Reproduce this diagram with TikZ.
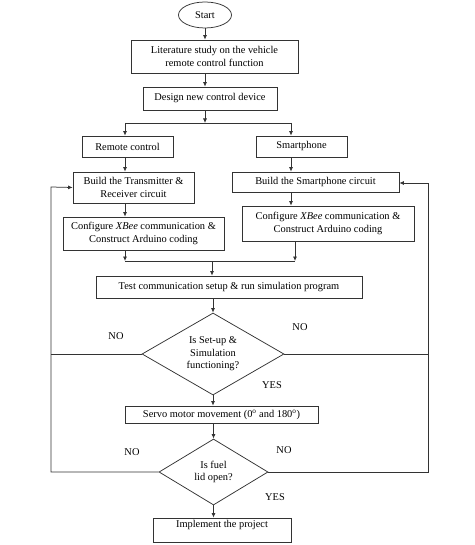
\documentclass[tikz,border=0pt]{standalone}
\usepackage{fontspec}
\setmainfont{Liberation Serif}
\usetikzlibrary{shapes.geometric,arrows.meta}

\begin{document}
\begin{tikzpicture}[x=1pt,y=-1pt, font=\fontsize{10.4}{12.4}\selectfont,
    box/.style={draw=black!80, line width=0.75pt, rectangle, inner sep=0pt, align=center},
    decision/.style={draw=black!80, line width=0.75pt, diamond, inner sep=0pt, aspect=1.7, align=center},
    flow/.style={draw=black!80, line width=0.75pt, -{Latex[length=4.5pt,width=4pt]}},
    wire/.style={draw=black!80, line width=0.75pt},
    answer/.style={inner sep=0pt}]
    \useasboundingbox (0,0) rectangle (474,545);
    % start
    \node[draw=black!80, line width=0.75pt, ellipse, minimum width=53pt, minimum height=26pt, inner sep=0pt] (start) at (205,15) {Start};
    \node[box, minimum width=167pt, minimum height=33pt] (lit) at (214.5,56.5) {Literature study on the vehicle\\remote control function};
    \node[box, minimum width=134pt, minimum height=23pt] (design) at (210,98.5) {Design new control device};
    % two branches
    \node[box, minimum width=91pt, minimum height=21pt] (remote) at (127.5,146.5) {Remote control};
    \node[box, minimum width=91pt, minimum height=21pt] (smart) at (301.5,146.5) {Smartphone};
    \node[box, minimum width=121pt, minimum height=31pt] (buildT) at (133.5,187.5) {Build the Transmitter \&\\Receiver circuit};
    \node[box, minimum width=167pt, minimum height=20pt] (buildS) at (315.5,182) {Build the Smartphone circuit};
    \node[box, minimum width=161pt, minimum height=33pt] (confL) at (143.5,233.5) {Configure \textit{XBee} communication \&\\Construct Arduino coding};
    \node[box, minimum width=172pt, minimum height=35pt] (confR) at (328,223.5) {Configure \textit{XBee} communication \&\\Construct Arduino coding};
    % test and checks
    \node[box, minimum width=266pt, minimum height=22pt] (test) at (229,287) {Test communication setup \& run simulation program};
    \node[decision, minimum width=142pt, minimum height=82pt] (check) at (213,354) {Is Set-up \&\\Simulation\\functioning?};
    \node[box, minimum width=193pt, minimum height=17pt] (servo) at (221.5,414.5) {Servo motor movement (0\textsuperscript{o} and 180\textsuperscript{o})};
    \node[decision, minimum width=109pt, minimum height=66pt] (fuel) at (213.5,472) {Is fuel\\lid open?};
    \node[box, minimum width=138pt, inner ysep=2pt, text height=7pt, text depth=13pt] (impl) at (222,530) {Implement the project};

    \coordinate (split) at (205,123);
    \coordinate (splitL) at (125,123);
    \coordinate (splitR) at (291,123);
    \coordinate (join) at (212,261);
    \coordinate (joinL) at (125,261);
    \coordinate (joinR) at (295,261);
    \coordinate (loopL) at (51,187);
    \coordinate (loopR) at (428,183);

    % main line
    \draw[flow] (start.south) -- (start.south |- lit.north);
    \draw[flow] (split |- lit.south) -- (split |- design.north);
    \draw[flow] (split |- design.south) -- (split);
    \draw[wire] (splitL) -- (splitR);
    \draw[flow] (splitL) -- (splitL |- remote.north);
    \draw[flow] (splitR) -- (splitR |- smart.north);
    \draw[flow] (splitL |- remote.south) -- (splitL |- buildT.north);
    \draw[flow] (splitR |- smart.south) -- (splitR |- buildS.north);
    \draw[flow] (splitL |- buildT.south) -- (splitL |- confL.north);
    \draw[flow] (splitR |- buildS.south) -- (splitR |- confR.north);
    \draw[flow] (joinL |- confL.south) -- (joinL);
    \draw[flow] (joinR |- confR.south) -- (joinR);
    \draw[wire] (joinL) -- (joinR);
    \draw[flow] (join) -- (join |- test.north);
    \draw[flow] (check.north |- test.south) -- (check.north);
    \draw[flow] (check.south) -- (check.south |- servo.north);
    \draw[flow] (fuel.north |- servo.south) -- (fuel.north);
    \draw[flow] (fuel.south) -- (fuel.south |- impl.north);

    % loops back
    \draw[wire] (check.west) -- (loopL |- check.west);
    \draw[flow] (fuel.west) -- (loopL |- fuel.west) -- (loopL) -- (buildT.west);
    \draw[wire] (check.east) -- (loopR |- check.east);
    \draw[flow] (fuel.east) -- (loopR |- fuel.east) -- (loopR) -- (loopR -| buildS.east);

    \node[answer] (no1) at (116,336) {NO};
    \node[answer] (no2) at (300,327) {NO};
    \node[answer] (yes1) at (272,385) {YES};
    \node[answer] (no3) at (132,452) {NO};
    \node[answer] (no4) at (284,450) {NO};
    \node[answer] (yes2) at (275,497) {YES};
\end{tikzpicture}
\end{document}
